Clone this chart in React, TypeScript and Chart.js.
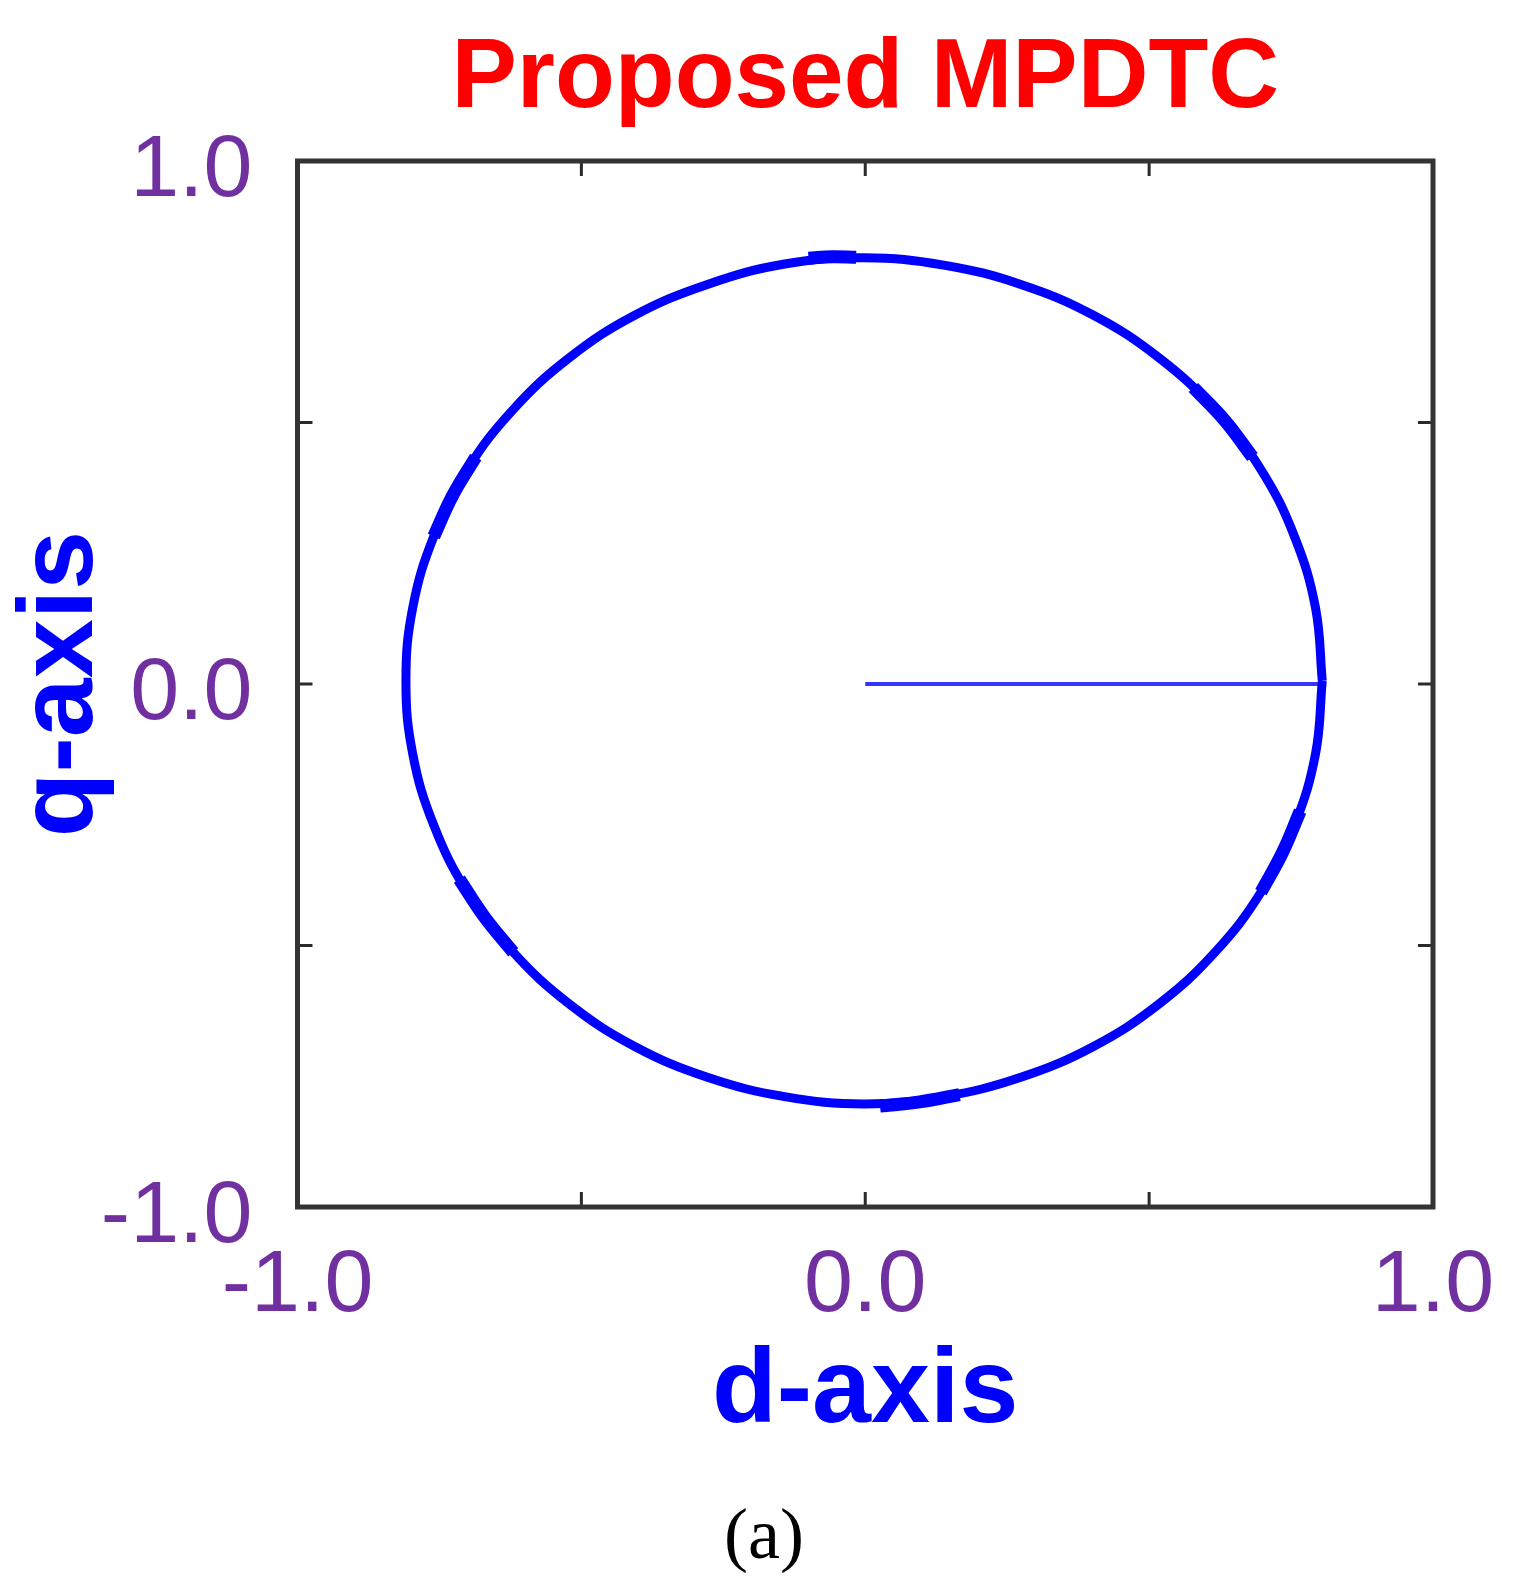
import React, { useEffect, useRef } from 'react';
import { Chart, registerables } from 'chart.js';

Chart.register(...registerables);

// Flux trajectory (d, q), every 10 degrees, closed loop
const circleD = [
  0.805, 0.793, 0.756, 0.697, 0.616, 0.517, 0.402, 0.274, 0.138, -0.002,
  -0.142, -0.278, -0.406, -0.521, -0.62, -0.701, -0.76, -0.797, -0.809, -0.797,
  -0.76, -0.701, -0.62, -0.521, -0.406, -0.278, -0.142, -0.002, 0.138, 0.274,
  0.402, 0.517, 0.616, 0.697, 0.756, 0.793, 0.805,
];
const circleQ = [
  0.006, 0.146, 0.282, 0.41, 0.525, 0.624, 0.705, 0.764, 0.801, 0.815,
  0.803, 0.764, 0.705, 0.624, 0.525, 0.41, 0.282, 0.146, 0.006, -0.134,
  -0.27, -0.398, -0.513, -0.612, -0.693, -0.752, -0.789, -0.803, -0.789, -0.752,
  -0.693, -0.612, -0.513, -0.398, -0.27, -0.134, 0.006,
];

// Thicker (noisier) stretches of the trajectory
const burstD = [
  [-0.1, -0.058, -0.016],
  [0.578, 0.634, 0.682],
  [-0.686, -0.727, -0.76],
  [-0.715, -0.671, -0.62],
  [0.697, 0.735, 0.766],
  [0.026, 0.096, 0.166],
];
const burstQ = [
  [0.814, 0.817, 0.816],
  [0.567, 0.503, 0.434],
  [0.434, 0.36, 0.282],
  [-0.373, -0.445, -0.513],
  [-0.398, -0.322, -0.243],
  [-0.807, -0.799, -0.785],
];

// Start-up radial line
const radialD = [0, 0.805];
const radialQ = [0, 0];

const xTickLabels = ['-1.0', '', '0.0', '', '1.0'];
const yTickLabels = ['-1.0', '', '0.0', '', '1.0'];

const SANS = "'Liberation Sans', Arial, sans-serif";
const BLUE = '#0000ff';
const PURPLE = '#7030a0';

const toPoints = (xs: number[], ys: number[]) => xs.map((x, i) => ({ x, y: ys[i] }));

const frameTicksPlugin = {
  id: 'frameTicks',
  afterDraw(chart: any) {
    const { ctx, chartArea, scales } = chart;
    const { left, right, top, bottom } = chartArea;
    const xs = scales.x;
    const ys = scales.y;
    const len = 15;
    ctx.save();
    ctx.strokeStyle = '#2a2a2a';
    ctx.lineWidth = 3;
    ctx.beginPath();
    xs.ticks.forEach((t: any) => {
      const px = xs.getPixelForValue(t.value);
      ctx.moveTo(px, bottom);
      ctx.lineTo(px, bottom - len);
      ctx.moveTo(px, top);
      ctx.lineTo(px, top + len);
    });
    ys.ticks.forEach((t: any) => {
      const py = ys.getPixelForValue(t.value);
      ctx.moveTo(left, py);
      ctx.lineTo(left + len, py);
      ctx.moveTo(right, py);
      ctx.lineTo(right - len, py);
    });
    ctx.stroke();
    ctx.strokeStyle = '#333333';
    ctx.lineWidth = 5;
    ctx.strokeRect(left, top, right - left, bottom - top);
    ctx.restore();
  },
};

export default function App() {
  const canvasRef = useRef<HTMLCanvasElement | null>(null);

  useEffect(() => {
    if (!canvasRef.current) return;
    const datasets: any[] = [
      {
        label: 'trajectory',
        data: toPoints(circleD, circleQ),
        showLine: true,
        borderColor: BLUE,
        borderWidth: 9,
        tension: 0.4,
        pointRadius: 0,
        fill: false,
      },
      ...burstD.map((seg, i) => ({
        label: 'burst' + i,
        data: toPoints(seg, burstQ[i]),
        showLine: true,
        borderColor: BLUE,
        borderWidth: 13,
        tension: 0.4,
        pointRadius: 0,
        fill: false,
      })),
      {
        label: 'radial',
        data: toPoints(radialD, radialQ),
        showLine: true,
        borderColor: '#3535ff',
        borderWidth: 4,
        pointRadius: 0,
        fill: false,
      },
    ];

    const chart = new Chart(canvasRef.current, {
      type: 'scatter',
      data: { datasets },
      plugins: [frameTicksPlugin],
      options: {
        animation: false,
        responsive: false,
        devicePixelRatio: 1,
        layout: { padding: { left: 0, right: 82, top: 0, bottom: 95 } },
        plugins: {
          legend: { display: false },
          tooltip: { enabled: false },
          title: {
            display: true,
            text: 'Proposed MPDTC',
            color: '#ff0000',
            fullSize: false,
            font: { family: SANS, size: 98, weight: 'bold', lineHeight: 1 },
            padding: { top: 31, bottom: 32 },
          },
        },
        scales: {
          x: {
            type: 'linear',
            min: -1,
            max: 1,
            grid: { display: false, drawTicks: false },
            border: { display: false },
            afterFit: (scale: any) => {
              scale.height = 291;
              scale.paddingLeft = 0;
              scale.paddingRight = 0;
            },
            ticks: {
              stepSize: 0.5,
              autoSkip: false,
              maxRotation: 0,
              padding: 36,
              color: PURPLE,
              font: { family: SANS, size: 88, lineHeight: 1 },
              callback: (_v: any, i: number) => xTickLabels[i],
            },
            title: {
              display: true,
              text: 'd-axis',
              color: BLUE,
              font: { family: SANS, size: 106, weight: 'bold', lineHeight: 1 },
              padding: { top: 0, bottom: 52 },
            },
          },
          y: {
            type: 'linear',
            min: -1,
            max: 1,
            grid: { display: false, drawTicks: false },
            border: { display: false },
            afterFit: (scale: any) => {
              scale.width = 297.5;
              scale.paddingTop = 0;
              scale.paddingBottom = 0;
            },
            ticks: {
              stepSize: 0.5,
              autoSkip: false,
              padding: 45,
              labelOffset: 11,
              color: PURPLE,
              font: { family: SANS, size: 88, lineHeight: 1 },
              callback: (_v: any, i: number) => yTickLabels[i],
            },
            title: {
              display: true,
              text: 'q-axis',
              color: BLUE,
              font: { family: SANS, size: 106, weight: 'bold', lineHeight: 1 },
              padding: { top: 10, bottom: 0 },
            },
          },
        },
      } as any,
    });
    return () => chart.destroy();
  }, []);

  return (
    <div style={{ position: 'absolute', left: 0, top: 0, width: 1515, height: 1593, background: '#fff' }}>
      <canvas ref={canvasRef} width={1515} height={1593} style={{ position: 'absolute', left: 0, top: 0 }} />
      <div
        style={{
          position: 'absolute',
          left: 0,
          top: 1498,
          width: 1528,
          textAlign: 'center',
          fontFamily: "'Liberation Serif', 'Times New Roman', serif",
          fontSize: 72,
          lineHeight: '72px',
          color: '#000',
        }}
      >
        (a)
      </div>
    </div>
  );
}
